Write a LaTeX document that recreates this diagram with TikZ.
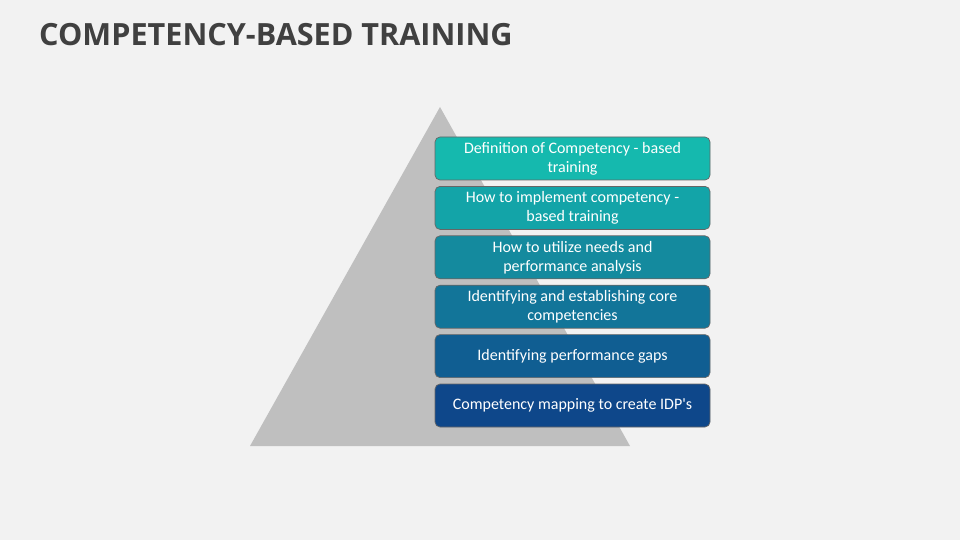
\documentclass[tikz,border=0pt]{standalone}
\usepackage{fontspec}
\setmainfont{Carlito}[Ligatures=TeXOff]
\newfontfamily\titlefont{Open Sans}
\definecolor{bgcol}{RGB}{242,242,242}
\definecolor{titlecol}{RGB}{64,64,64}
\definecolor{pyrgray}{RGB}{191,191,191}
\definecolor{stepa}{RGB}{21,185,174}
\definecolor{stepb}{RGB}{19,164,168}
\definecolor{stepc}{RGB}{20,138,158}
\definecolor{stepd}{RGB}{18,117,153}
\definecolor{stepe}{RGB}{16,94,146}
\definecolor{stepf}{RGB}{14,71,138}
\begin{document}
\begin{tikzpicture}[x=1pt,y=-1pt,
  stepbox/.style={draw=black!60, line width=0.7pt, rounded corners=5pt,
    minimum width=275pt, minimum height=43pt, inner sep=2pt,
    text=white, align=center, font=\fontsize{16}{19}\selectfont}]
\fill[bgcol] (0,0) rectangle (960,540);
\useasboundingbox (0,0) rectangle (960,540);
\node[anchor=base west, inner sep=0pt, text=titlecol,
  font=\titlefont\bfseries\fontsize{30.6}{36}\selectfont] (title) at (39,46) {COMPETENCY-BASED TRAINING};
% pyramid
\fill[pyrgray] (440,107) -- (630,446) -- (250,446) -- cycle;
% steps
\foreach \i/\c/\t in {1/stepa/Definition of Competency - based\\training,
  2/stepb/How to implement competency -\\based training,
  3/stepc/How to utilize needs and\\performance analysis,
  4/stepd/Identifying and establishing core\\competencies,
  5/stepe/Identifying performance gaps,
  6/stepf/Competency mapping to create IDP's}{
\node[stepbox, fill=\c] (step\i) at (572.5,{158.5+(\i-1)*49.4}) {\t};
}
\end{tikzpicture}
\end{document}
